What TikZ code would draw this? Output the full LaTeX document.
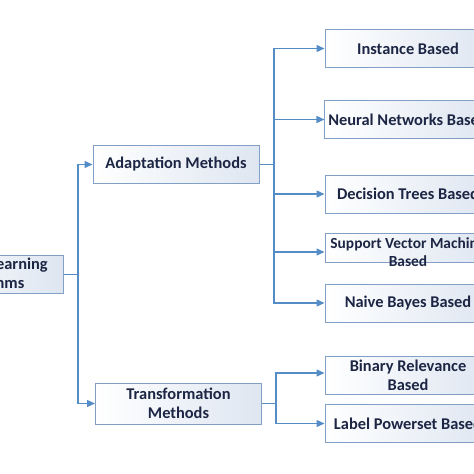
\documentclass[tikz,border=0pt]{standalone}
\usepackage{fontspec}
\setmainfont{Carlito}
\usetikzlibrary{arrows.meta}
\definecolor{boxline}{RGB}{130,160,198}
\definecolor{boxfill}{RGB}{222,230,241}
\definecolor{linkblue}{RGB}{84,140,198}
\definecolor{textnavy}{RGB}{28,38,68}
\tikzset{every picture/.style={line width=0.75pt}}
\tikzset{
  boxtext/.style={align=center, text=textnavy, font=\fontsize{16.4}{19}\selectfont\bfseries},
  box/.style={boxtext, draw=boxline, line width=1pt, left color=white, right color=boxfill,
    minimum width=166pt, minimum height=38pt, inner ysep=2pt},
  link/.style={draw=linkblue, line width=1.4pt},
  arrow/.style={link, -{Triangle[length=8pt,width=7pt]}},
}

\begin{document}
\begin{tikzpicture}[x=1pt,y=-1pt]
    \useasboundingbox (0,0) rectangle (474,474);
    \clip (0,0) rectangle (474,474);
    % root
    \node[box, minimum width=152pt] (root) at (-13,274.5) {Machine Learning\\Algorithms};
    % two families
    \node[box] (adapt) at (176,164.5) {Adaptation Methods};
    \node[box, minimum height=41pt] (trans) at (178.5,403.5) {Transformation\\Methods};
    % adaptation methods
    \node[box] (inst) at (408,48.5) {Instance Based};
    \node[box] (neural) at (408,119.5) {Neural Networks Based};
    \node[box] (dtree) at (408,194) {Decision Trees Based};
    \node[box, minimum height=29pt] (svm) at (408,247.5) {};
    \node[boxtext, font=\fontsize{15.4}{18.5}\selectfont\bfseries] (svmtext) at (408,252) {Support Vector Machine\\Based};
    \node[box] (naive) at (408,303) {Naive Bayes Based};
    % transformation methods
    \node[box] (binrel) at (408,375) {Binary Relevance\\Based};
    \node[box] (powerset) at (408,423.5) {Label Powerset Based};
    % connectors
    \coordinate (trunk) at (78,274.5);
    \draw[link] (root.east) -- (trunk);
    \draw[arrow] (trunk) |- (adapt.west);
    \draw[arrow] (trunk) |- (trans.west);
    \coordinate (abranch) at (274,164.5);
    \draw[link] (adapt.east) -- (abranch);
    \foreach \n in {inst,neural,dtree,naive}
        \draw[arrow] (abranch) |- (\n.west);
    \draw[arrow] (abranch) |- ([yshift=-4.5pt]svm.west);
    \coordinate (tbranch) at (276,403.5);
    \draw[link] (trans.east) -- (tbranch);
    \draw[arrow] (tbranch) |- ([yshift=2pt]binrel.west);
    \draw[arrow] (tbranch) |- (powerset.west);
\end{tikzpicture}
\end{document}
